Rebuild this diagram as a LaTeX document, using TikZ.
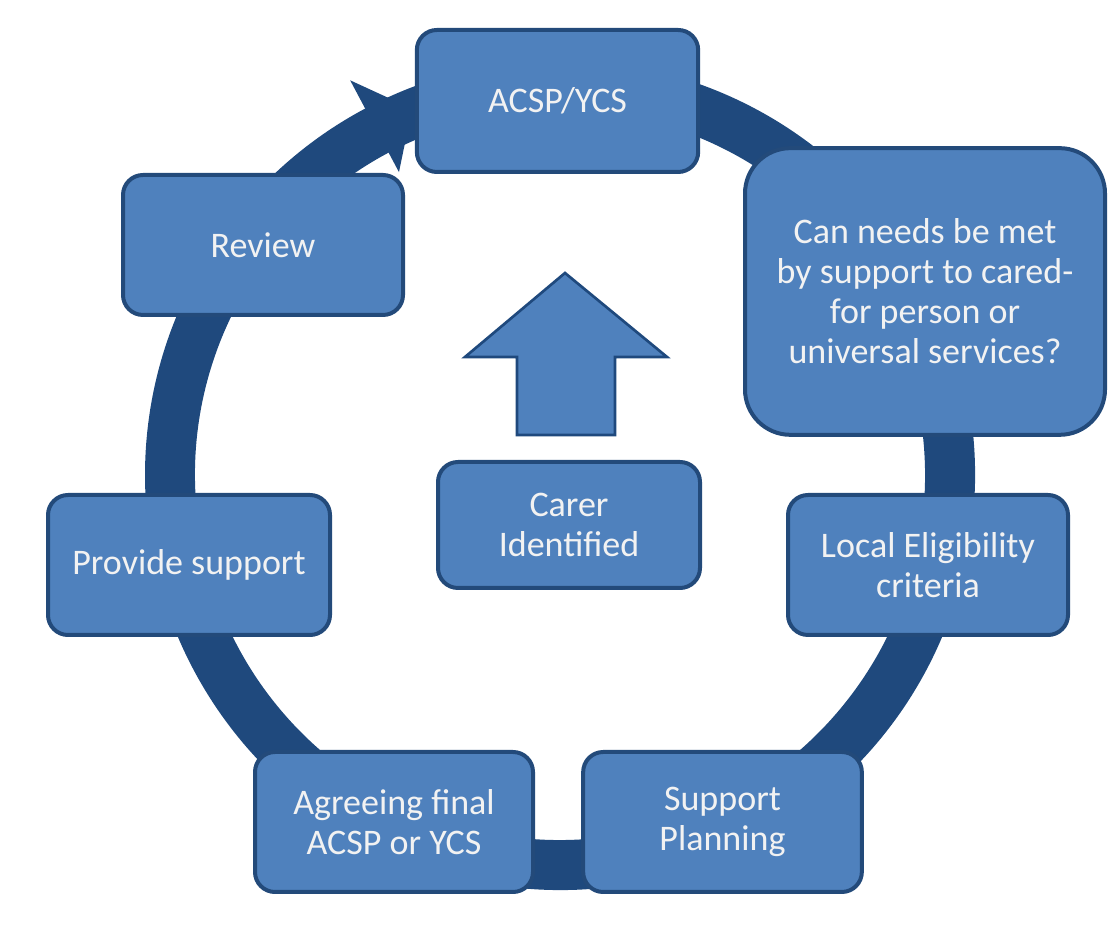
\documentclass[tikz,border=0pt]{standalone}
\usepackage{fontspec}
\setmainfont{Carlito}
\usetikzlibrary{positioning}
\definecolor{boxblue}{HTML}{4F81BD}
\definecolor{ringblue}{HTML}{1F497D}
\definecolor{edgeblue}{HTML}{234A7A}
\definecolor{textwhite}{HTML}{F2F2F2}

\begin{document}
\begin{tikzpicture}[
        x=0.75pt, y=0.75pt,
        stagebox/.style={rectangle, rounded corners=15pt, draw=edgeblue, line width=3pt, fill=boxblue,
            text=textwhite, align=center, font=\fontsize{27}{30}\selectfont, inner sep=0pt,
            minimum width=210pt, minimum height=105pt}
    ]
    \useasboundingbox (0,0) rectangle (1120,930);

    % circular arrow
    \begin{scope}[shift={(560,455)}]
        \fill[ringblue] (118:415) arc[start angle=118, end angle=-260, radius=415]
            -- (-260:365) arc[start angle=-260, end angle=118, radius=365] -- cycle;
        \fill[ringblue] (118:447) -- (112:395) -- (118:343) -- cycle;
    \end{scope}

    \node [stagebox, minimum width=211pt, minimum height=106.5pt] (ACSP) at (557.5,829) {ACSP/YCS};
    \node [stagebox, rounded corners=34pt, minimum width=270pt, minimum height=215pt] (Needs) at (925,638.5)
        {Can needs be met\\by support to cared-\\for person or\\universal services?};
    \node [stagebox] (Eligibility) at (928,365) {Local Eligibility\\criteria};
    \node [stagebox, minimum width=209pt] (Planning) at (722.5,108) {Support\\Planning};
    \node [stagebox, minimum width=208.5pt] (Agreeing) at (394,108) {Agreeing final\\ACSP or YCS};
    \node [stagebox, minimum width=211.5pt] (Provide) at (189,365) {Provide support};
    \node [stagebox] (Review) at (263,685) {Review};
    \node [stagebox, minimum width=196.5pt, minimum height=94.5pt] (Carer) at (569,405) {Carer\\Identified};

    % arrow into the cycle
    \draw[fill=boxblue, draw=ringblue, line width=2pt, line join=miter]
        (565,657) -- (667,573) -- (615,573) -- (615,495) -- (517,495) -- (517,573) -- (465,573) -- cycle;

\end{tikzpicture}
\end{document}
